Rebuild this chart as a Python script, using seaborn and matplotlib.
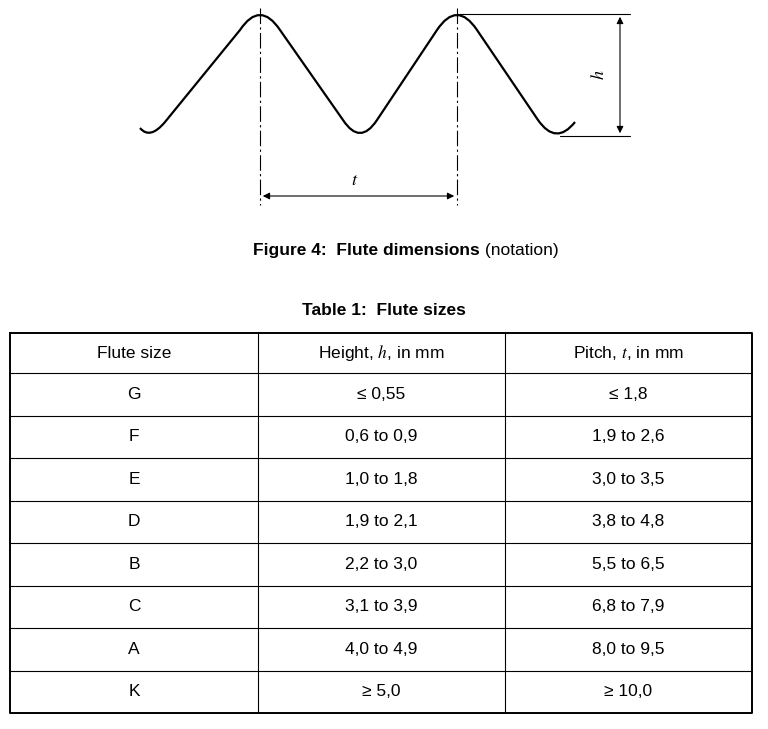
import matplotlib
matplotlib.use("Agg")
import matplotlib.pyplot as plt
import seaborn as sns
from matplotlib.path import Path
from matplotlib.patches import PathPatch

sns.set_theme(style="white")
plt.rcParams['font.family'] = ['Liberation Sans', 'DejaVu Sans']
plt.rcParams['mathtext.fontset'] = 'stix'
plt.rcParams['text.color'] = 'black'

flute_sizes = ["G", "F", "E", "D", "B", "C", "A", "K"]
heights = ["≤ 0,55", "0,6 to 0,9", "1,0 to 1,8", "1,9 to 2,1", "2,2 to 3,0", "3,1 to 3,9", "4,0 to 4,9", "≥ 5,0"]
pitches = ["≤ 1,8", "1,9 to 2,6", "3,0 to 3,5", "3,8 to 4,8", "5,5 to 6,5", "6,8 to 7,9", "8,0 to 9,5", "≥ 10,0"]
headers = ["Flute size", "Height, $h$, in mm", "Pitch, $t$, in mm"]

fig = plt.figure(figsize=(7.68, 7.29), dpi=100)
ax = fig.add_axes([0, 0, 1, 1])
ax.set_xlim(0, 768); ax.set_ylim(729, 0); ax.axis("off")

# wave profile
verts = [(140, 128), (150, 140), (165, 122),
         (240, 30), (260, 0), (280, 30),
         (343, 120), (360, 146), (377, 120),
         (437, 30), (457, 0), (477, 30),
         (538, 120), (556, 146), (575, 122)]
codes = [Path.MOVETO, Path.CURVE3, Path.CURVE3,
         Path.LINETO, Path.CURVE3, Path.CURVE3,
         Path.LINETO, Path.CURVE3, Path.CURVE3,
         Path.LINETO, Path.CURVE3, Path.CURVE3,
         Path.LINETO, Path.CURVE3, Path.CURVE3]
ax.add_patch(PathPatch(Path(verts, codes), fill=False, lw=1.6, color="black"))

for x in (260, 457):
    ax.plot([x, x], [8, 205], color="black", lw=0.8, ls=(0, (14, 3, 2, 3)))
ax.plot([457, 630], [14, 14], color="black", lw=0.8)
ax.plot([560, 630], [136, 136], color="black", lw=0.8)
ax.annotate("", xy=(620, 14), xytext=(620, 136),
            arrowprops=dict(arrowstyle="<|-|>", color="black", lw=0.8, mutation_scale=10))
ax.annotate("", xy=(260, 196), xytext=(457, 196),
            arrowprops=dict(arrowstyle="<|-|>", color="black", lw=0.8, mutation_scale=10))
ax.text(600, 75, "$h$", rotation=90, ha="center", va="center", fontsize=13)
ax.text(355, 180, "$t$", ha="center", va="center", fontsize=13)

ax.text(480, 250, "Figure 4:  Flute dimensions", ha="right", va="center", fontsize=12.5, fontweight="bold")
ax.text(480, 250, " (notation)", ha="left", va="center", fontsize=12.5)
ax.text(384, 310, "Table 1:  Flute sizes", ha="center", va="center", fontsize=12.5, fontweight="bold")

# table
xl, xr = 10, 752
cols = [10, 258, 505, 752]
ytop, yh = 333, 373
rowh = (713 - yh) / len(flute_sizes)
ybot = 713
ax.plot([xl, xr, xr, xl, xl], [ytop, ytop, ybot, ybot, ytop], color="black", lw=1.4)
for c in cols[1:-1]:
    ax.plot([c, c], [ytop, ybot], color="black", lw=0.8)
ax.plot([xl, xr], [yh, yh], color="black", lw=0.8)
for i in range(1, len(flute_sizes)):
    y = yh + i * rowh
    ax.plot([xl, xr], [y, y], color="black", lw=0.8)
centers = [(cols[i] + cols[i + 1]) / 2 for i in range(3)]
for j, h in enumerate(headers):
    ax.text(centers[j], (ytop + yh) / 2, h, ha="center", va="center", fontsize=12.5)
for i, row in enumerate(zip(flute_sizes, heights, pitches)):
    y = yh + (i + 0.5) * rowh
    for j, v in enumerate(row):
        ax.text(centers[j], y, v, ha="center", va="center", fontsize=12.5)

fig.savefig("out.png", dpi=100, facecolor="white")
